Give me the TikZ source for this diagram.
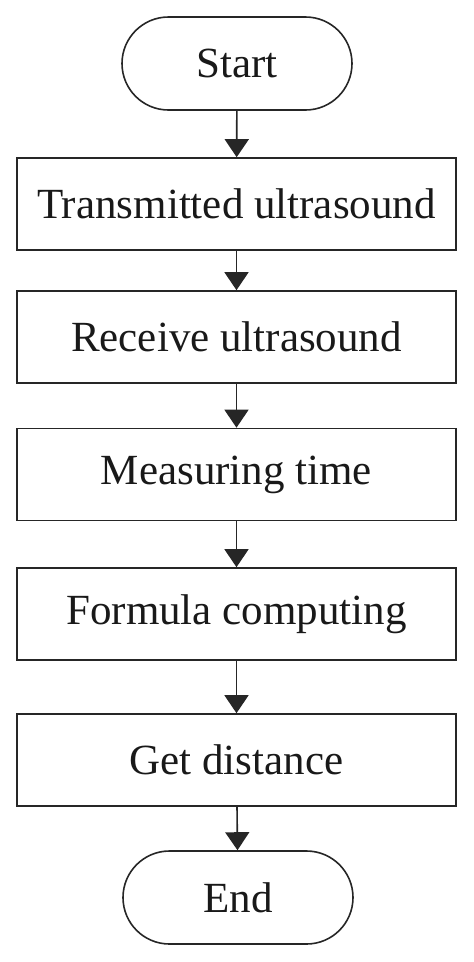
\documentclass[tikz,border=0pt]{standalone}
\usepackage{fontspec}
\setmainfont{Liberation Serif}
\usetikzlibrary{arrows.meta,shapes.misc}
\begin{document}
\begin{tikzpicture}[x=1pt,y=-1pt,
  stepbox/.style={draw=black!85,line width=1.6pt,rectangle,minimum width=439pt,minimum height=92pt,inner sep=0pt,text=black!90,font=\fontsize{43}{48}\selectfont},
  term/.style={draw=black!85,line width=1.6pt,rounded rectangle,minimum width=230pt,minimum height=93pt,inner sep=0pt,text=black!90,font=\fontsize{43}{48}\selectfont},
  flow/.style={draw=black!85,line width=1.6pt,-{Triangle[width=24pt,length=18pt]}}]
\useasboundingbox (0,0) rectangle (474,962);
\node[term] (start) at (237,63.5) {Start};
\node[stepbox] (b1) at (236.5,204) {Transmitted ultrasound};
\node[stepbox] (b2) at (236.5,337) {Receive ultrasound};
\node[stepbox] (b3) at (236.5,474.5) {Measuring time};
\node[stepbox] (b4) at (236.5,614) {Formula computing};
\node[stepbox] (b5) at (236.5,760) {Get distance};
\node[term] (end) at (238,897.5) {End};
\draw[flow] (start) -- (b1);
\draw[flow] (b1) -- (b2);
\draw[flow] (b2) -- (b3);
\draw[flow] (b3) -- (b4);
\draw[flow] (b4) -- (b5);
\draw[flow] (b5) -- (end);
\end{tikzpicture}
\end{document}
